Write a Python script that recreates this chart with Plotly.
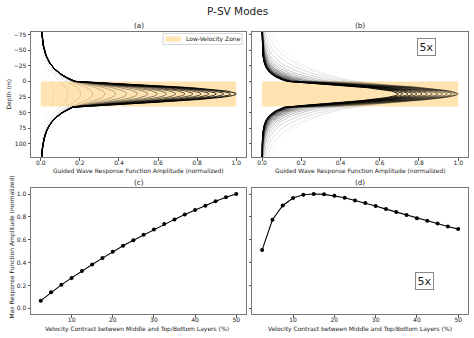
import numpy as np
import plotly.graph_objects as go

# ---------------- data ----------------
contrast = [2.5, 5, 7.5, 10, 12.5, 15, 17.5, 20, 22.5, 25,
            27.5, 30, 32.5, 35, 37.5, 40, 42.5, 45, 47.5, 50]
# panel (c): max response amplitude (normalized)
amp_c = [0.067, 0.140, 0.205, 0.266, 0.327, 0.383, 0.439, 0.494, 0.547, 0.596,
         0.643, 0.690, 0.737, 0.778, 0.820, 0.860, 0.898, 0.936, 0.971, 1.000]
# panel (d): max response amplitude (normalized), 5x
amp_d = [0.509, 0.775, 0.900, 0.965, 0.994, 1.000, 0.997, 0.985, 0.968, 0.944,
         0.921, 0.895, 0.868, 0.842, 0.816, 0.789, 0.766, 0.743, 0.716, 0.693]

edge_a = [0.055, 0.100, 0.130, 0.150, 0.160, 0.165, 0.168, 0.170, 0.170, 0.172,
          0.172, 0.173, 0.173, 0.174, 0.174, 0.175, 0.175, 0.175, 0.176, 0.176]
decay_a = [28, 27, 26, 25, 24, 23.5, 23, 22.5, 22.5, 22,
           22, 22, 22, 22, 22, 22, 22, 22, 22, 22]
edge_b = [0.460, 0.480, 0.440, 0.390, 0.340, 0.300, 0.265, 0.240, 0.220, 0.200,
          0.185, 0.170, 0.160, 0.150, 0.145, 0.140, 0.135, 0.130, 0.127, 0.125]
decay_b = [34, 28, 24, 21, 19, 17.5, 16.5, 15.5, 15, 14.5,
           14, 13.5, 13.2, 13, 12.8, 12.6, 12.4, 12.2, 12, 12]

zone_top, zone_bottom = 0, 40
depth_range = [-79, 121]
depth_ticks = [-75, -50, -25, 0, 25, 50, 75, 100]
amp_ticks = [0.0, 0.2, 0.4, 0.6, 0.8, 1.0]
contrast_ticks = [10, 20, 30, 40, 50]

FONT = "DejaVu Sans"


def mode_profile(z, peak, edge, decay):
    mid = 0.5 * (zone_top + zone_bottom)
    half = 0.5 * (zone_bottom - zone_top)
    d = np.abs(z - mid)
    k = np.arccos(min(edge / peak, 0.999)) / half
    inside = peak * np.cos(k * d)
    outside = edge * np.exp(-(d - half) / decay)
    return np.where(d <= half, inside, outside)


z = np.linspace(depth_range[0], depth_range[1], 1601)

fig = go.Figure()

# low-velocity zone bands
for xa, ya in [("x", "y"), ("x2", "y2")]:
    fig.add_trace(go.Scatter(
        x=[0, 1, 1, 0, 0],
        y=[zone_top, zone_top, zone_bottom, zone_bottom, zone_top],
        mode="lines", fill="toself", fillcolor="rgba(255,165,0,0.3)",
        line=dict(width=0), xaxis=xa, yaxis=ya, showlegend=False,
        hoverinfo="skip"))

# response function profiles
for i, c in enumerate(contrast):
    alpha = c / max(contrast)
    col = f"rgba(0,0,0,{alpha:.3f})"
    fig.add_trace(go.Scatter(
        x=mode_profile(z, amp_c[i], edge_a[i], decay_a[i]), y=z,
        mode="lines", line=dict(color=col, width=0.9),
        xaxis="x", yaxis="y", showlegend=False))
    fig.add_trace(go.Scatter(
        x=mode_profile(z, amp_d[i], edge_b[i], decay_b[i]), y=z,
        mode="lines", line=dict(color=col, width=0.9),
        xaxis="x2", yaxis="y2", showlegend=False))

# max amplitude vs contrast
fig.add_trace(go.Scatter(x=contrast, y=amp_c, mode="lines+markers",
                         line=dict(color="black", width=1.1),
                         marker=dict(color="black", size=4),
                         xaxis="x3", yaxis="y3", showlegend=False))
fig.add_trace(go.Scatter(x=contrast, y=amp_d, mode="lines+markers",
                         line=dict(color="black", width=1.1),
                         marker=dict(color="black", size=4),
                         xaxis="x4", yaxis="y4", showlegend=False))

W, H = 474, 338


def px(v):
    return v / W


def py(v):
    return 1 - v / H


axis_style = dict(showline=True, mirror=True, linecolor="#777", linewidth=1,
                  ticks="outside", ticklen=2.5, tickwidth=0.8, tickcolor="#555",
                  tickfont=dict(family=FONT, size=6, color="#222"),
                  showgrid=False, zeroline=False)
x_style = dict(axis_style, ticklabelstandoff=-3)

top_dom = [py(157), py(32)]
bot_dom = [py(314), py(188.3)]
left_dom = [px(31), px(246)]
right_dom = [px(252.3), px(468)]

amp_text = [f"{v:.1f}" for v in amp_ticks]

fig.update_layout(
    width=W, height=H, margin=dict(l=0, r=0, t=0, b=0),
    paper_bgcolor="white", plot_bgcolor="white",
    font=dict(family=FONT, color="#222"),
    xaxis=dict(domain=left_dom, anchor="y", range=[-0.05, 1.05],
               tickvals=amp_ticks, ticktext=amp_text, **x_style),
    yaxis=dict(domain=top_dom, anchor="x", range=[depth_range[1], depth_range[0]],
               tickvals=depth_ticks, **axis_style),
    xaxis2=dict(domain=right_dom, anchor="y2", range=[-0.05, 1.05],
                tickvals=amp_ticks, ticktext=amp_text, **x_style),
    yaxis2=dict(domain=top_dom, anchor="x2", range=[depth_range[1], depth_range[0]],
                tickvals=depth_ticks, showticklabels=False, **axis_style),
    xaxis3=dict(domain=left_dom, anchor="y3", range=[0.125, 52.375],
                tickvals=contrast_ticks, **x_style),
    yaxis3=dict(domain=bot_dom, anchor="x3", range=[-0.05, 1.05],
                tickvals=amp_ticks, ticktext=amp_text, **axis_style),
    xaxis4=dict(domain=right_dom, anchor="y4", range=[0.125, 52.375],
                tickvals=contrast_ticks, **x_style),
    yaxis4=dict(domain=bot_dom, anchor="x4", range=[-0.05, 1.05],
                tickvals=amp_ticks, showticklabels=False, **axis_style),
)

ann = []


def text(x, y, s, size=6, angle=0, **kw):
    ann.append(dict(x=x, y=y, xref="paper", yref="paper", text=s, showarrow=False,
                    font=dict(family=FONT, size=size, color="#222"), textangle=angle,
                    xanchor=kw.get("xanchor", "center"), yanchor="middle"))


text(0.5, py(11), "P-SV Modes", size=10.5)
text(px(138.5), py(25), "(a)", size=7.2)
text(px(360), py(25), "(b)", size=7.2)
text(px(138.5), py(182), "(c)", size=7.2)
text(px(360), py(182), "(d)", size=7.2)
amp_label = "Guided Wave Response Function Amplitude (normalized)"
con_label = "Velocity Contrast between Middle and Top/Bottom Layers (%)"
text(px(138), py(170.5), amp_label)
text(px(360), py(170.5), amp_label)
text(px(137), py(328.5), con_label)
text(px(360), py(328.5), con_label)
text(px(8.5), py(94), "Depth (m)", angle=-90)
text(px(11.5), py(247), "Max Response Function Amplitude (normalized)", angle=-90)

# legend (panel a)
text(px(184), py(39), "Low-Velocity Zone", xanchor="left")
shapes = [
    dict(type="rect", xref="paper", yref="paper", x0=px(163), x1=px(242),
         y0=py(44.5), y1=py(33.5), line=dict(color="#ccc", width=0.8),
         fillcolor="rgba(255,255,255,0.8)", layer="above"),
    dict(type="rect", xref="paper", yref="paper", x0=px(165.5), x1=px(181),
         y0=py(41.5), y1=py(36.5), line=dict(width=0),
         fillcolor="rgba(255,165,0,0.3)", layer="above"),
]

for cx, cy in [(426, 47), (424, 281)]:
    ann.append(dict(x=px(cx), y=py(cy), xref="paper", yref="paper", text="5x",
                    showarrow=False, font=dict(family=FONT, size=11, color="#222"),
                    bgcolor="white", bordercolor="#888", borderwidth=1, borderpad=1.5,
                    xanchor="center", yanchor="middle"))

fig.update_layout(annotations=ann, shapes=shapes)
fig.write_html("out.html")
